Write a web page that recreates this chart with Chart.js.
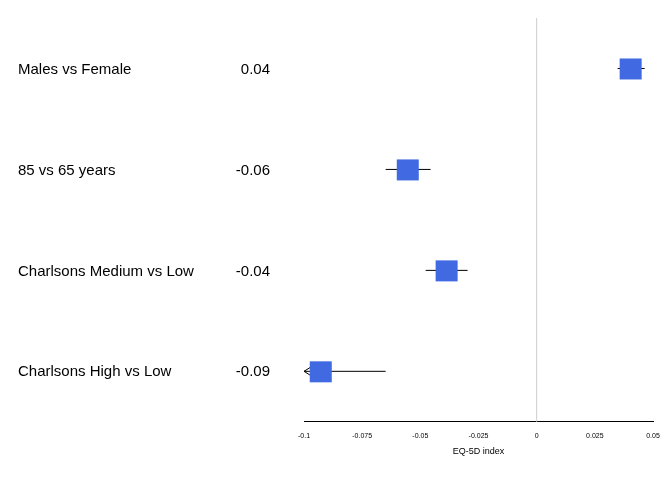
<!DOCTYPE html><html><head><script src="https://cdn.jsdelivr.net/npm/chart.js@4"></script>
<style>body{margin:0;background:#fff}#w{width:672px;height:480px}</style></head><body><div id="w"><canvas id="c"></canvas></div>
<script>
const labels=["Males vs Female","85 vs 65 years","Charlsons Medium vs Low","Charlsons High vs Low"];
const estLabels=["0.04","-0.06","-0.04","-0.09"];
const est=[0.0404,-0.0554,-0.0387,-0.0928];
const lo=[0.0348,-0.0649,-0.0477,-0.1];
const hi=[0.0464,-0.0456,-0.0297,-0.0649];
const truncatedLow=[false,false,false,true];
const xTicks=[-0.1,-0.075,-0.05,-0.025,0,0.025,0.05];
const plug={id:'f',afterDatasetsDraw(ch){const c=ch.ctx,x=ch.scales.x,y=ch.scales.y,a=ch.chartArea;
c.save();c.strokeStyle='#cccccc';c.lineWidth=1;c.beginPath();c.moveTo(x.getPixelForValue(0),a.top);c.lineTo(x.getPixelForValue(0),a.bottom);c.stroke();
est.forEach((v,i)=>{const py=y.getPixelForValue(i+0.5);c.strokeStyle='#000';c.lineWidth=1;c.beginPath();c.moveTo(x.getPixelForValue(lo[i]),py);c.lineTo(x.getPixelForValue(hi[i]),py);c.stroke();
if(truncatedLow[i]){const px=x.getPixelForValue(lo[i]);c.beginPath();c.moveTo(px+8,py-5);c.lineTo(px,py);c.lineTo(px+8,py+5);c.stroke();}
const px=x.getPixelForValue(v);c.fillStyle='#4169e1';c.fillRect(px-11,py-10,22,21);
c.fillStyle='#000';c.font='15px "Liberation Sans",Arial';c.textBaseline='middle';c.textAlign='left';c.fillText(labels[i],18,py+1);c.textAlign='right';c.fillText(estLabels[i],270,py+1);});
c.restore();}};
new Chart(document.getElementById('c'),{type:'scatter',data:{datasets:[{data:est.map((v,i)=>({x:v,y:i+0.5})),pointRadius:0}]},
options:{responsive:true,maintainAspectRatio:false,animation:false,events:[],layout:{padding:{left:304,right:19,top:18,bottom:23}},
plugins:{legend:{display:false},tooltip:{enabled:false}},
scales:{y:{display:false,reverse:true,min:0,max:4},
x:{min:-0.1,max:0.05,afterBuildTicks(s){s.ticks=xTicks.map(v=>({value:v}));},grid:{display:false,drawTicks:true,tickLength:6,tickColor:'#000'},border:{color:'#000',width:1},
ticks:{color:'#000',font:{size:7,family:'Liberation Sans'},padding:4,maxRotation:0,callback:v=>String(v)},
title:{display:true,text:'EQ-5D index',color:'#000',font:{size:9,family:'Liberation Sans'},padding:{top:2,bottom:0}}}}},plugins:[plug]});
</script></body></html>
